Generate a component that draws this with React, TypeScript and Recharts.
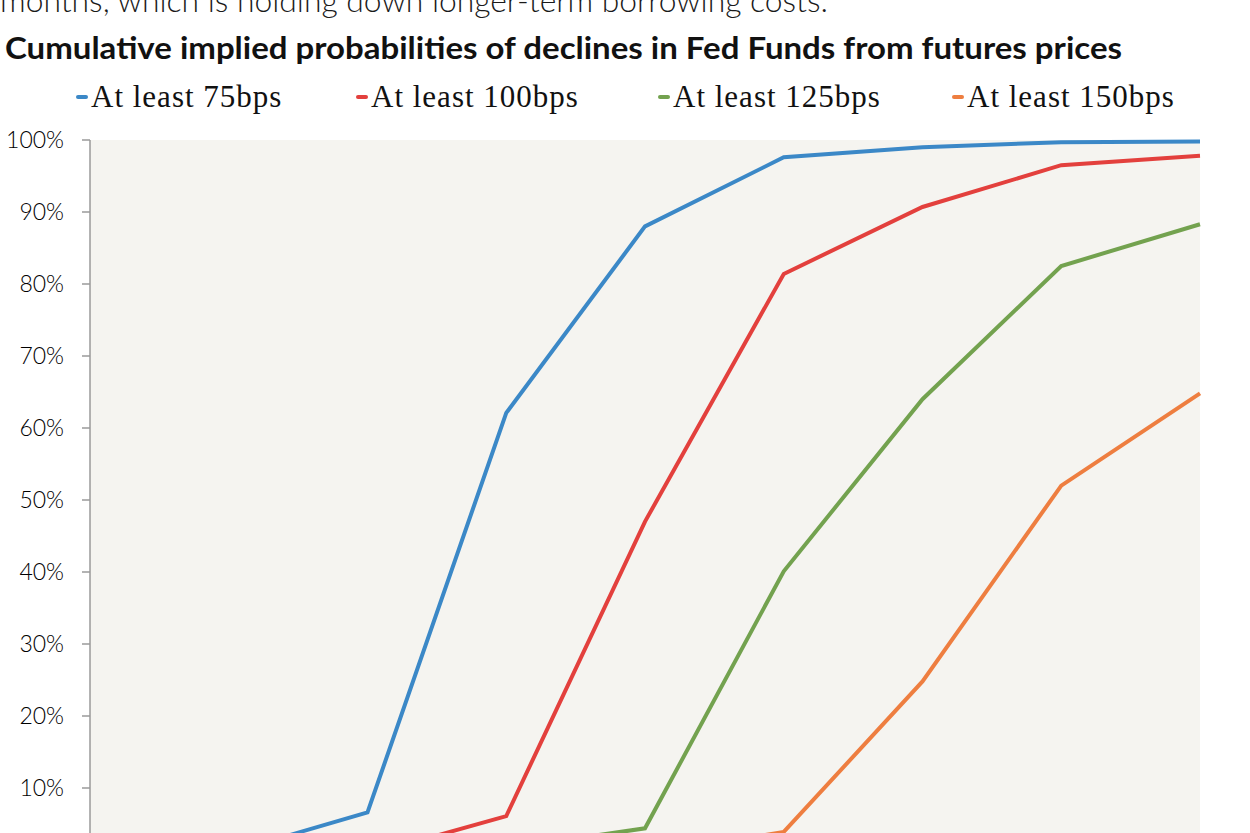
import React from "react";
import { LineChart, Line, XAxis, YAxis, CartesianGrid } from "recharts";

// Data
const categories = ["M1", "M2", "M3", "M4", "M5", "M6", "M7", "M8", "M9"];
const atLeast75 = [0.3, 1.0, 6.6, 62.1, 88.0, 97.6, 99.0, 99.7, 99.8];
const atLeast100 = [0, 0.2, 0.7, 6.1, 47.0, 81.4, 90.7, 96.5, 97.8];
const atLeast125 = [0, 0, 0.3, 1.6, 4.4, 40.1, 64.0, 82.5, 88.3];
const atLeast150 = [0, 0, 0, 0.2, 0.8, 3.9, 24.8, 52.0, 64.8];
const yTicks = [0, 10, 20, 30, 40, 50, 60, 70, 80, 90, 100];

const seriesNames = ["At least 75bps", "At least 100bps", "At least 125bps", "At least 150bps"];
const seriesColors = ["#3B88C7", "#E3403D", "#73A24F", "#EE7E40"];
const seriesValues = [atLeast75, atLeast100, atLeast125, atLeast150];
const legendLeft = [76, 356, 658, 952];

const introText = "months, which is holding down longer-term borrowing costs.";
const titleText = "Cumulative implied probabilities of declines in Fed Funds from futures prices";

const data = categories.map((c, i) => {
  const row: Record<string, string | number> = { cat: c };
  seriesNames.forEach((n, k) => {
    row[n] = seriesValues[k][i];
  });
  return row;
});

export default function App() {
  return (
    <div
      style={{
        position: "absolute",
        top: 0,
        left: 0,
        width: 1250,
        height: 960,
        background: "#ffffff",
        overflow: "hidden",
      }}
    >
      <svg
        width={1250}
        height={70}
        style={{ position: "absolute", top: 0, left: 0 }}
      >
        <text
          x={0}
          y={12}
          fontFamily="Lato"
          fontWeight={300}
          fontSize={31}
          fill="#1a1a1a"
          textLength={828}
          lengthAdjust="spacingAndGlyphs"
        >
          {introText}
        </text>
        <text
          x={5}
          y={59}
          fontFamily="Lato"
          fontWeight={700}
          fontSize={30}
          fill="#111111"
          textLength={1117}
          lengthAdjust="spacingAndGlyphs"
        >
          {titleText}
        </text>
      </svg>

      {seriesNames.map((n, k) => (
        <div
          key={n}
          style={{
            position: "absolute",
            top: 78,
            left: legendLeft[k],
            height: 38,
            display: "flex",
            alignItems: "center",
            fontFamily: "'Liberation Serif', serif",
            fontSize: 31,
            letterSpacing: 1,
            color: "#111",
            whiteSpace: "nowrap",
          }}
        >
          <span
            style={{
              display: "inline-block",
              width: 12,
              height: 4,
              borderRadius: 2,
              background: seriesColors[k],
              marginRight: 3,
            }}
          />
          <span>{n}</span>
        </div>
      ))}

      <div style={{ position: "absolute", top: 0, left: 0 }}>
        <LineChart
          width={1250}
          height={960}
          data={data}
          margin={{ top: 140, right: 50, left: 0, bottom: 60 }}
        >
          <CartesianGrid fill="#F5F4F0" horizontal={false} vertical={false} />
          <XAxis
            dataKey="cat"
            height={40}
            axisLine={{ stroke: "#9a9a9a", strokeWidth: 1.5 }}
            tickLine={false}
            tick={{ fontFamily: "Lato", fontSize: 20, fill: "#222" }}
          />
          <YAxis
            width={90}
            domain={[0, 100]}
            ticks={yTicks}
            interval={0}
            tickFormatter={(v: number) => `${v}%`}
            tickSize={8}
            tickMargin={18}
            axisLine={{ stroke: "#9a9a9a", strokeWidth: 1.5 }}
            tickLine={{ stroke: "#9a9a9a", strokeWidth: 1.5 }}
            tick={{ fontFamily: "Lato", fontWeight: 300, fontSize: 23, fill: "#000" }}
          />
          {seriesNames.map((n, k) => (
            <Line
              key={n}
              type="linear"
              dataKey={n}
              stroke={seriesColors[k]}
              strokeWidth={4}
              dot={false}
              isAnimationActive={false}
            />
          ))}
        </LineChart>
      </div>
    </div>
  );
}
